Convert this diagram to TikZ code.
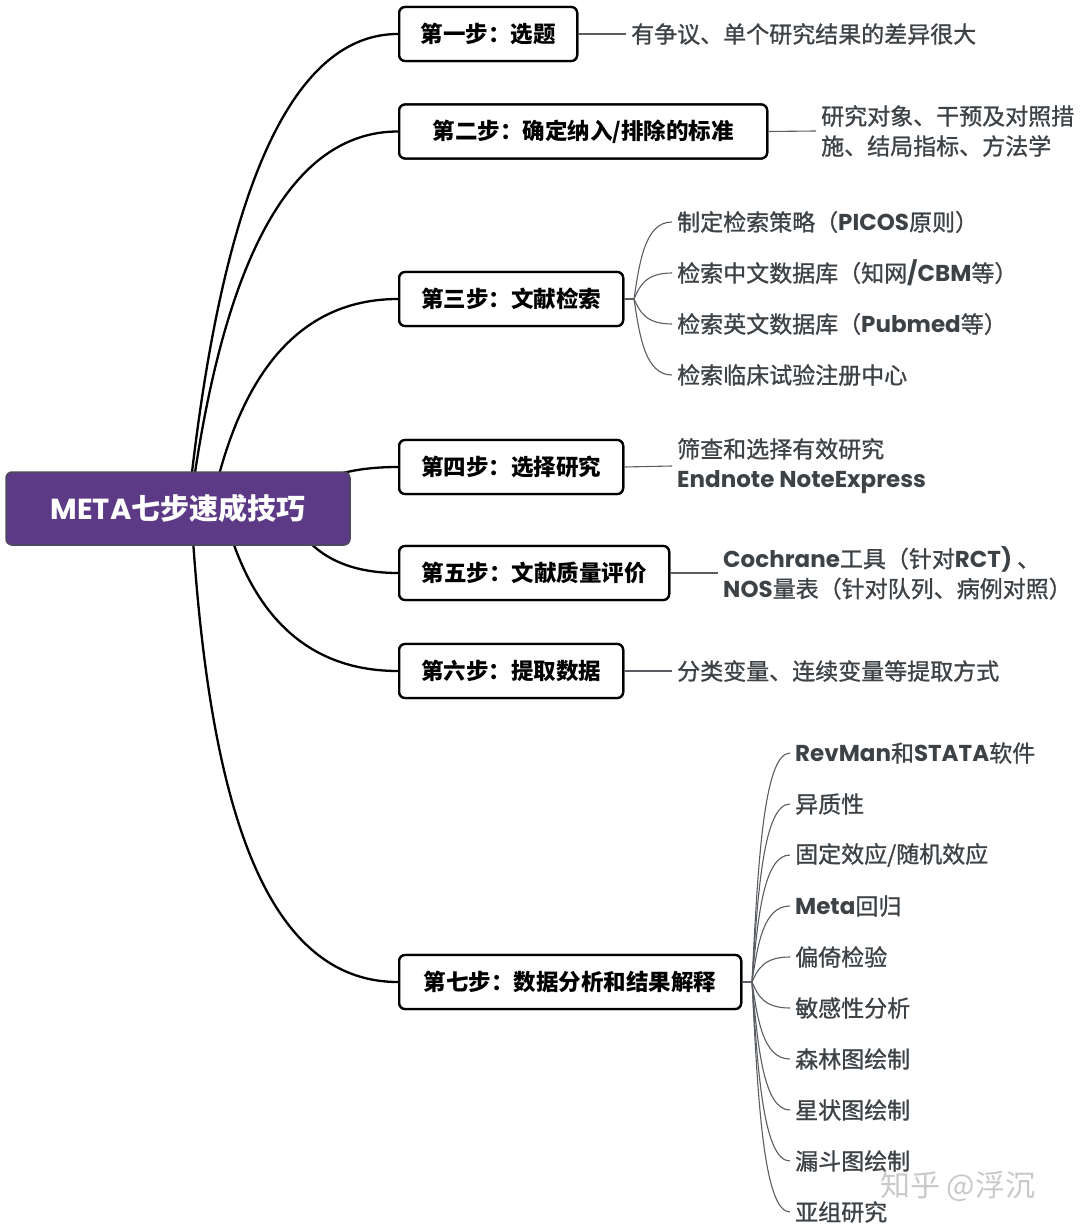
\documentclass[tikz,border=0pt]{standalone}
\usepackage{fontspec}
\setmainfont{Noto Sans CJK SC}
\newfontfamily\cjkm[FakeBold=1.0]{Noto Sans CJK SC}
\newfontfamily\latf{Poppins}
\newcommand\enb[1]{{\latf\bfseries #1}}
\usetikzlibrary{calc}
\definecolor{rootfill}{HTML}{5C3A86}
\definecolor{rootline}{HTML}{4E4A5E}
\definecolor{leafcol}{HTML}{3D4246}
\definecolor{leafline}{HTML}{5A5E62}
\definecolor{wmark}{HTML}{C9C9C9}
\tikzset{
  rootbox/.style={draw=rootline, line width=1.5pt, fill=rootfill, rounded corners=6pt,
    minimum width=344pt, minimum height=73pt, inner sep=0pt, text=white,
    font=\fontsize{29}{32}\selectfont\bfseries},
  stepbox/.style={draw=black, line width=2.3pt, fill=white, rounded corners=6pt,
    minimum height=54pt, inner sep=0pt, anchor=west, text=black,
    font=\fontsize{22.5}{26}\selectfont\bfseries},
  leaf/.style={anchor=west, inner xsep=5pt, inner ysep=1pt, align=left, text=leafcol,
    font=\fontsize{23}{30}\selectfont\cjkm},
  mainline/.style={draw=black, line width=2.3pt},
  leafline/.style={draw=leafline, line width=1.1pt},
}
\newcommand\conn[5]{\draw[mainline] let \p1=(#1), \p2=(#2) in (\p1) .. controls ({\x1+#3*(\x2-\x1)},{\y1+#4*(\y2-\y1)}) and ({\x1+#5*(\x2-\x1)},\y2) .. (\p2);}
\newcommand\bconn[2]{\draw[leafline] let \p1=(#1), \p2=(#2) in (\p1) .. controls ({\x1+0.15*(\x2-\x1)},{\y1+0.5*(\y2-\y1)}) and ({\x1+0.3*(\x2-\x1)},\y2) .. (\p2);}
\begin{document}
\begin{tikzpicture}[x=1pt,y=-1pt]
\useasboundingbox (0,0) rectangle (1080,1230);
% start points of the main connectors (hidden behind the root)
\coordinate (r1) at (188,508);
\coordinate (r2) at (190,508);
\coordinate (r3) at (211,508);
\coordinate (r4) at (290,508);
\coordinate (r5) at (288,508);
\coordinate (r6) at (223,508);
\coordinate (r7) at (191,508);
% steps
\node[stepbox, minimum width=178pt] (s1) at (398,34) {第一步：选题};
\node[stepbox, minimum width=368pt] (s2) at (398,131.5) {第二步：确定纳入/排除的标准};
\node[stepbox, minimum width=224pt] (s3) at (398,299) {第三步：文献检索};
\node[stepbox, minimum width=224pt] (s4) at (398,467) {第四步：选择研究};
\node[stepbox, minimum width=270pt] (s5) at (398,573) {第五步：文献质量评价};
\node[stepbox, minimum width=224pt] (s6) at (398,671) {第六步：提取数据};
\node[stepbox, minimum width=342pt] (s7) at (398,982) {第七步：数据分析和结果解释};
% main connectors
\conn{r1}{s1.west}{0.105}{0.44}{0.34}
\conn{r2}{s2.west}{0.105}{0.44}{0.34}
\conn{r3}{s3.west}{0.105}{0.44}{0.34}
\conn{r4}{s4.west}{0.1}{0.44}{0.34}
\conn{r5}{s5.west}{0.1}{0.44}{0.34}
\conn{r6}{s6.west}{0.1}{0.44}{0.34}
\conn{r7}{s7.west}{0.07}{0.53}{0.28}
% redraw step boxes on top of connector ends
\node[stepbox, minimum width=178pt] at (398,34) {第一步：选题};
\node[stepbox, minimum width=368pt] at (398,131.5) {第二步：确定纳入/排除的标准};
\node[stepbox, minimum width=224pt] at (398,299) {第三步：文献检索};
\node[stepbox, minimum width=224pt] at (398,467) {第四步：选择研究};
\node[stepbox, minimum width=270pt] at (398,573) {第五步：文献质量评价};
\node[stepbox, minimum width=224pt] at (398,671) {第六步：提取数据};
\node[stepbox, minimum width=342pt] at (398,982) {第七步：数据分析和结果解释};
% root
\node[rootbox] (root) at (178,508.5) {\enb{META}七步速成技巧};
% leaves
\node[leaf] (l1) at (626,34) {有争议、单个研究结果的差异很大};
\draw[leafline] (s1.east) -- (l1.west);
\node[leaf] (l2) at (816,131) {研究对象、干预及对照措\\施、结局指标、方法学};
\draw[leafline] (s2.east) -- (l2.west);
\coordinate (j3) at (634,299);
\draw[leafline] (s3.east) -- (j3);
\node[leaf] (l3a) at (672,222) {制定检索策略（\enb{PICOS}原则）};
\node[leaf] (l3b) at (672,273) {检索中文数据库（知网\enb{/CBM}等）};
\node[leaf] (l3c) at (672,324) {检索英文数据库（\enb{Pubmed}等）};
\node[leaf] (l3d) at (672,375) {检索临床试验注册中心};
\foreach \lf in {l3a,l3b,l3c,l3d} {\bconn{j3}{\lf.west}}
\node[leaf] (l4) at (672,466) {筛查和选择有效研究\\\enb{Endnote NoteExpress}};
\draw[leafline] (s4.east) -- (l4.west);
\node[leaf] (l5) at (718,573) {\enb{Cochrane}工具（针对\enb{RCT)} 、\\\enb{NOS}量表（针对队列、病例对照）};
\draw[leafline] (s5.east) -- (l5.west);
\node[leaf] (l6) at (672,671) {分类变量、连续变量等提取方式};
\draw[leafline] (s6.east) -- (l6.west);
\coordinate (j7) at (752,982);
\draw[leafline] (s7.east) -- (j7);
\node[leaf] (l7a) at (790,753) {\enb{RevMan}和\enb{STATA}软件};
\node[leaf] (l7b) at (790,804) {异质性};
\node[leaf] (l7c) at (790,855) {固定效应/随机效应};
\node[leaf] (l7d) at (790,906) {\enb{Meta}回归};
\node[leaf] (l7e) at (790,957) {偏倚检验};
\node[leaf] (l7f) at (790,1008) {敏感性分析};
\node[leaf] (l7g) at (790,1059) {森林图绘制};
\node[leaf] (l7h) at (790,1110) {星状图绘制};
\node[leaf] (l7i) at (790,1161) {漏斗图绘制};
\node[leaf] (l7j) at (790,1212) {亚组研究};
\foreach \lf in {l7a,l7b,l7c,l7d,l7e,l7f,l7g,l7h,l7i,l7j} {\bconn{j7}{\lf.west}}
% watermark
\node[text=wmark, font=\fontsize{30}{32}\selectfont, anchor=west, inner sep=0pt] (wm) at (880,1186) {知乎 @浮沉};
\end{tikzpicture}
\end{document}
